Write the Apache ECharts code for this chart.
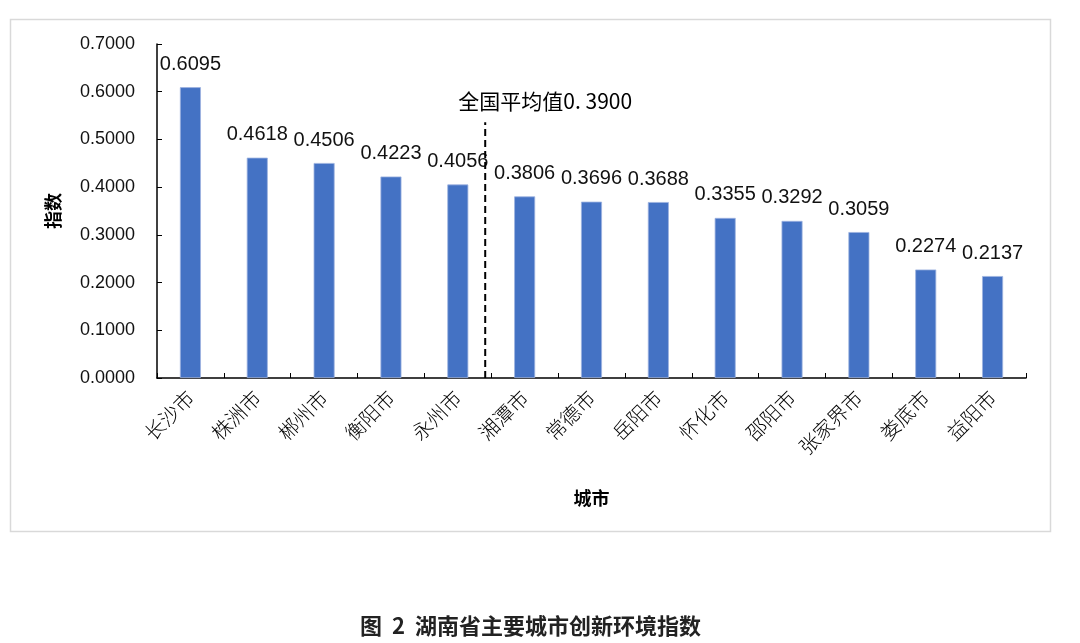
<!DOCTYPE html>
<html>
<head>
<meta charset="utf-8">
<style>
  html, body { margin: 0; padding: 0; background: #fff; }
  #chart-main { width: 1080px; height: 643px; }
</style>
<script src="https://cdn.jsdelivr.net/npm/echarts@6/dist/echarts.min.js"></script>
</head>
<body>
<div id="chart-main"></div>
<script>
var cities = ['长沙市', '株洲市', '郴州市', '衡阳市', '永州市', '湘潭市', '常德市', '岳阳市', '怀化市', '邵阳市', '张家界市', '娄底市', '益阳市'];
var envIndex = [0.6095, 0.4618, 0.4506, 0.4223, 0.4056, 0.3806, 0.3696, 0.3688, 0.3355, 0.3292, 0.3059, 0.2274, 0.2137];
var avgLinePos = 4.91;   // position along the category axis, in category units
var avgLineTop = 0.536;
var avgLabel = '全国平均值0. 3900';

var dom_main = document.getElementById('chart-main');
var chart_main = echarts.init(dom_main, null, { renderer: 'canvas' });

var baseFont = 'Liberation Sans, Arial, Noto Sans CJK SC, sans-serif';
var cjkFont = 'Noto Sans CJK SC, sans-serif';

var option_main = {
  backgroundColor: '#fff',
  animation: false,
  title: {
    text: '图  2  湖南省主要城市创新环境指数',
    left: 355,
    top: 610,
    textStyle: {
      fontFamily: cjkFont,
      fontSize: 22,
      fontWeight: 'bold',
      color: '#222'
    }
  },
  graphic: [
    {
      type: 'rect',
      shape: { x: 10.5, y: 19.5, width: 1040, height: 512 },
      style: { fill: 'none', stroke: '#d9d9d9', lineWidth: 1.5 },
      z: -1
    }
  ],
  grid: {
    left: 157,
    right: 54,
    top: 44,
    bottom: 265
  },
  xAxis: [
    {
      type: 'category',
      data: cities,
      name: '城市',
      nameLocation: 'middle',
      nameGap: 111,
      nameTextStyle: { fontFamily: cjkFont, fontSize: 18, fontWeight: 'bold', color: '#000' },
      axisLine: { lineStyle: { color: '#000', width: 1.5 } },
      axisTick: { show: true, inside: true, length: 5, lineStyle: { color: '#000' } },
      axisLabel: {
        rotate: 45,
        margin: 16,
        fontFamily: cjkFont,
        fontSize: 20,
        fontWeight: 300,
        color: '#000'
      }
    },
    {
      type: 'value',
      min: 0,
      max: cities.length,
      show: false
    }
  ],
  yAxis: {
    type: 'value',
    min: 0,
    max: 0.7,
    interval: 0.1,
    name: '指数',
    nameLocation: 'middle',
    nameGap: 95,
    nameRotate: 90,
    nameTextStyle: { fontFamily: cjkFont, fontSize: 18, fontWeight: 'bold', color: '#000' },
    axisLine: { show: true, lineStyle: { color: '#000', width: 1.5 } },
    axisTick: { show: true, inside: true, length: 5, lineStyle: { color: '#000' } },
    splitLine: { show: false },
    axisLabel: {
      margin: 22,
      fontFamily: baseFont,
      fontSize: 18,
      color: '#111',
      formatter: function (v) { return v.toFixed(4); }
    }
  },
  series: [
    {
      name: '指数',
      type: 'bar',
      barWidth: 21,
      data: envIndex,
      itemStyle: { color: '#4472C4', borderColor: '#9db3e0', borderWidth: 0.8 },
      label: {
        show: true,
        position: 'top',
        distance: 13,
        fontFamily: baseFont,
        fontSize: 20,
        color: '#111',
        formatter: function (p) { return p.value.toFixed(4); }
      }
    },
    {
      name: '全国平均值',
      type: 'line',
      xAxisIndex: 1,
      symbol: 'circle',
      symbolSize: 0,
      lineStyle: { color: '#000', width: 2, type: [7, 4] },
      data: [
        [avgLinePos, 0],
        {
          value: [avgLinePos, avgLineTop],
          label: {
            show: true,
            position: 'top',
            distance: 11,
            offset: [60, 0],
            formatter: avgLabel,
            fontFamily: cjkFont,
            fontSize: 21,
            fontWeight: 'normal',
            color: '#000'
          }
        }
      ],
      z: 5
    }
  ]
};

if (option_main && typeof option_main === 'object') {
  chart_main.setOption(option_main);
}

window.addEventListener('resize', chart_main.resize);
</script>
</body>
</html>
